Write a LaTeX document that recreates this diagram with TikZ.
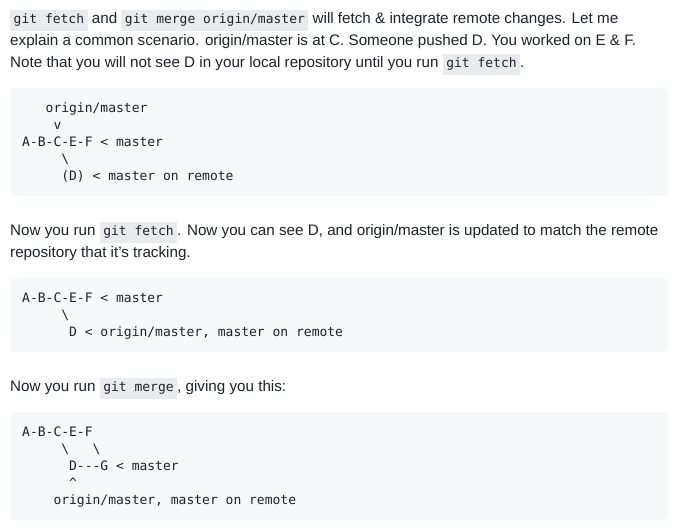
\documentclass[tikz,border=0pt]{standalone}
\usepackage{fontspec}
\setmainfont{Liberation Sans}
\setmonofont{DejaVu Sans Mono}
\definecolor{txt}{HTML}{1F2328}
\definecolor{blockbg}{HTML}{F6F8FA}
\definecolor{inlbg}{HTML}{E9EBEE}
\newcommand{\ic}[1]{{\setlength{\fboxsep}{3.5pt}\colorbox{inlbg}{\fontsize{13pt}{14pt}\ttfamily\strut #1}}}
\tikzset{
  para/.style={anchor=base west, inner sep=0pt, font=\fontsize{15.2pt}{18pt}\selectfont, text=txt},
  code/.style={anchor=base west, inner sep=0pt, font=\fontsize{13pt}{15pt}\ttfamily, text=txt},
  block/.style={fill=blockbg, draw=none, rounded corners=5pt}
}
\begin{document}
\begin{tikzpicture}[x=1pt,y=-1pt]
\useasboundingbox (0,0) rectangle (687,530);
\fill[white] (0,0) rectangle (687,530);
\node[para] (p1) at (10,23) {\ic{git fetch} and \ic{git merge origin/master} will fetch \& integrate remote changes. Let me};
\node[para] (p2) at (10,45) {explain a common scenario. origin/master is at C. Someone pushed D. You worked on E \& F.};
\node[para] (p3) at (10,67) {Note that you will not see D in your local repository until you run \ic{git fetch}.};
\path[block] (10,88) rectangle (668,196);
\node[code] (a1) at (22,112) {\ \ \ origin/master};
\node[code] (a2) at (22,129) {\ \ \ \ v};
\node[code] (a3) at (22,146) {A-B-C-E-F < master};
\node[code] (a4) at (22,163) {\ \ \ \ \ \textbackslash};
\node[code] (a5) at (22,180) {\ \ \ \ \ (D) < master on remote};
\node[para] (p4) at (10,235) {Now you run \ic{git fetch}. Now you can see D, and origin/master is updated to match the remote};
\node[para] (p5) at (10,257) {repository that it's tracking.};
\path[block] (10,278) rectangle (668,352);
\node[code] (b1) at (22,302) {A-B-C-E-F < master};
\node[code] (b2) at (22,319) {\ \ \ \ \ \textbackslash};
\node[code] (b3) at (22,336) {\ \ \ \ \ \ D < origin/master, master on remote};
\node[para] (p6) at (10,391) {Now you run \ic{git merge}, giving you this:};
\path[block] (10,412) rectangle (668,520);
\node[code] (c1) at (22,436) {A-B-C-E-F};
\node[code] (c2) at (22,453) {\ \ \ \ \ \textbackslash\ \ \ \textbackslash};
\node[code] (c3) at (22,470) {\ \ \ \ \ \ D---G < master};
\node[code] (c4) at (22,487) {\ \ \ \ \ \ \^{}};
\node[code] (c5) at (22,504) {\ \ \ \ origin/master, master on remote};
\end{tikzpicture}
\end{document}
